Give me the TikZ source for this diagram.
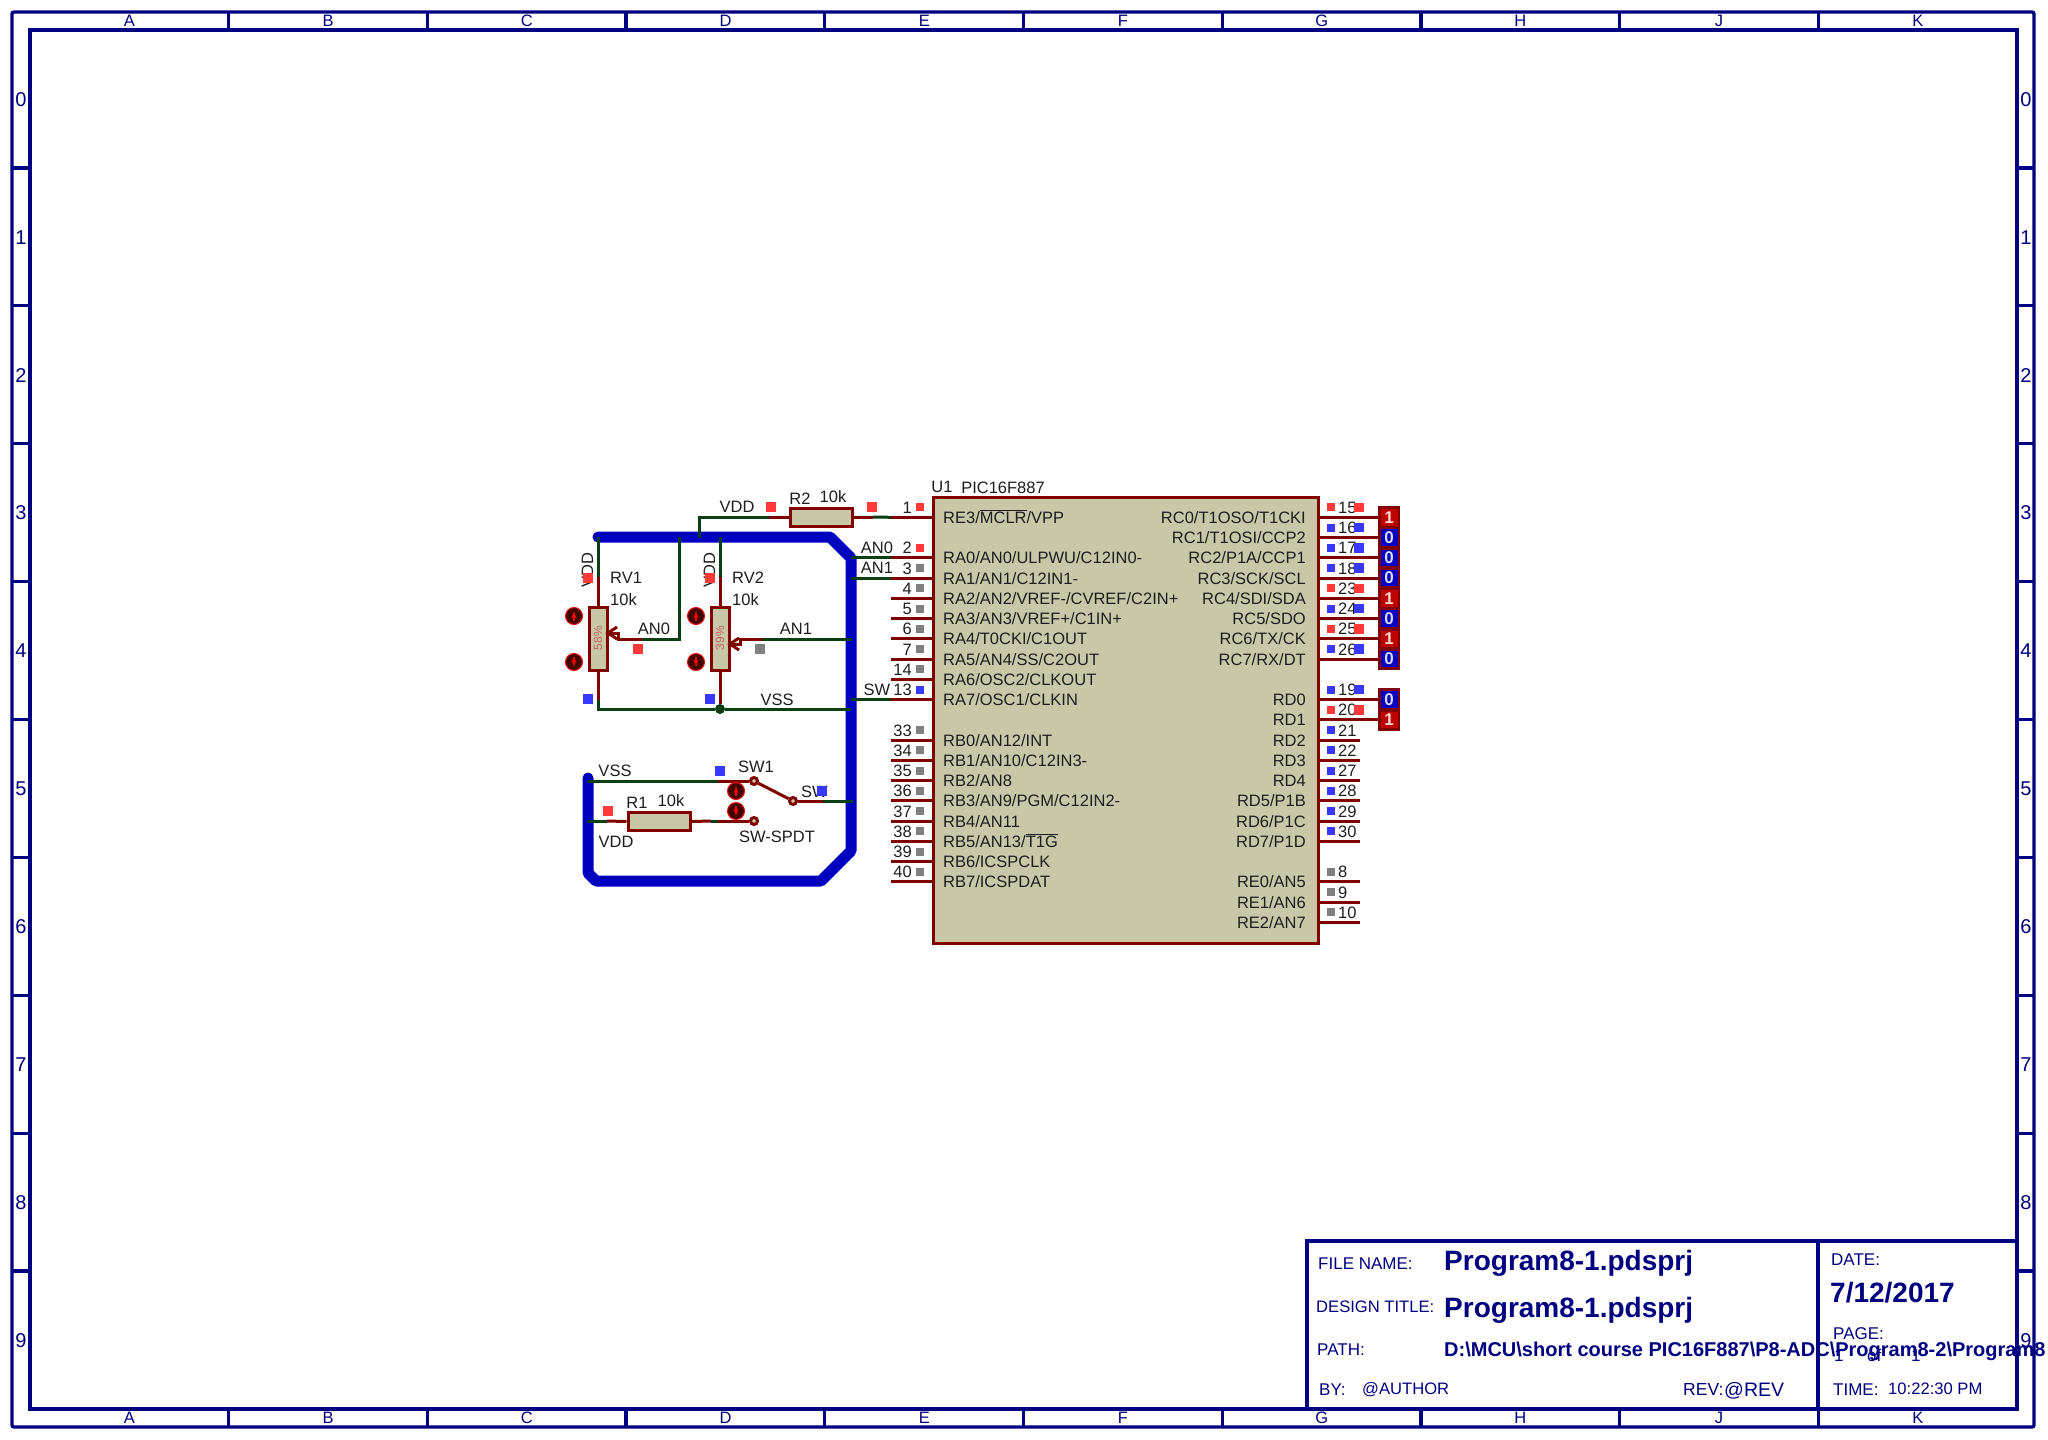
\documentclass[tikz,border=0pt]{standalone}
\usepackage{fontspec}
\setmainfont{Liberation Sans}
\definecolor{sheet}{HTML}{000080}
\definecolor{busblue}{HTML}{0000C0}
\definecolor{wirered}{HTML}{800000}
\definecolor{wiregreen}{HTML}{0A3F14}
\definecolor{body}{HTML}{C8C8A8}
\definecolor{sqred}{HTML}{FF3838}
\definecolor{sqblue}{HTML}{3838FF}
\definecolor{sqgray}{HTML}{808080}
\definecolor{txt}{HTML}{1E1E1E}
\definecolor{pct}{HTML}{C06060}
\newcommand{\sz}[1]{\fontsize{#1}{#1}\selectfont}
\tikzset{
	frameline/.style={draw=sheet, line width=3.3pt},
	lbl/.style={font=\sz{16.5}, text=txt, inner sep=0pt, text height=12pt, text depth=0pt},
	lblw/.style={lbl, anchor=west},
	lble/.style={lbl, anchor=east},
	tb/.style={font=\sz{#1}, text=sheet, inner sep=0pt, anchor=west, text height=0.72*#1pt, text depth=0pt},
	tbb/.style={tb=#1, font=\sz{#1}\bfseries},
	bus/.style={draw=busblue, line width=11pt, line cap=round, line join=round},
	wg/.style={draw=wiregreen, line width=3pt},
	wr/.style={draw=wirered, line width=3pt},
	resbox/.style={draw=wirered, fill=body, line width=3pt, minimum width=62pt, minimum height=18pt, inner sep=0pt},
	potbox/.style={draw=wirered, fill=body, line width=3pt, minimum width=18pt, minimum height=63pt, inner sep=0pt},
	term/.style={circle, draw=wirered, fill=body, line width=3pt, minimum size=7pt, inner sep=0pt},
	btn/.style={circle, draw=red, fill=black!50!wirered, line width=1pt, minimum size=17pt, inner sep=0pt},
	btna/.style={draw=red, line width=1.3pt, ->, >=latex},
	pctlbl/.style={rotate=90, font=\sz{12}, text=pct, inner sep=0pt},
	sq/.style={minimum size=#1, inner sep=0pt},
	sqr/.style={sq=10pt, fill=sqred},
	sqb/.style={sq=10pt, fill=sqblue},
	sqg/.style={sq=10pt, fill=sqgray},
	cell/.style={minimum width=17pt, minimum height=16.5pt, inner sep=0pt, font=\sz{17}\bfseries},
	cell1/.style={cell, fill=red!75!black, text=red!15!white},
	cell0/.style={cell, fill=busblue, text=blue!15!white},
	probe1/.style={sq=9.5pt, fill=sqred},
	probe0/.style={sq=9.5pt, fill=sqblue},
}
\begin{document}
\begin{tikzpicture}[x=1pt, y=-1pt]
	\useasboundingbox (0,0) rectangle (2048,1440);
	% sheet frame
	\draw[frameline, rounded corners=2pt] (12,12) rectangle (2034,1427);
	\draw[frameline] (30,30) rectangle (2017,1409);
	\foreach \i in {1,...,9} {
		\draw[frameline] ({30+198.7*\i},12) -- ({30+198.7*\i},30);
		\draw[frameline] ({30+198.7*\i},1409) -- ({30+198.7*\i},1427);
		\draw[frameline] (12,{30+137.9*\i}) -- (30,{30+137.9*\i});
		\draw[frameline] (2017,{30+137.9*\i}) -- (2034,{30+137.9*\i});
	}
	\foreach \i/\c in {0/A,1/B,2/C,3/D,4/E,5/F,6/G,7/H,8/J,9/K} {
		\node[tb=16.5, anchor=center] (top\c) at ({129.5+198.7*\i},21) {\c};
		\node[tb=16.5, anchor=center] (bot\c) at ({129.5+198.7*\i},1418) {\c};
	}
	\foreach \i in {0,...,9} {
		\node[tb=20, anchor=center] (left\i) at (21,{99+137.9*\i}) {\i};
		\node[tb=20, anchor=center] (right\i) at (2026,{99+137.9*\i}) {\i};
	}
	% title block
	\draw[frameline] (1307,1409) -- (1307,1241) -- (2017,1241);
	\draw[frameline] (1818,1241) -- (1818,1409);
	\node[tb=17] (fileL) at (1318,1263) {FILE NAME:};
	\node[tbb=28] (fileT) at (1444,1260) {Program8-1.pdsprj};
	\node[tb=16.6] (titleL) at (1316,1307) {DESIGN TITLE:};
	\node[tbb=28] (titleT) at (1444,1307) {Program8-1.pdsprj};
	\node[tb=17] (pathL) at (1317,1349) {PATH:};
	\node[tbb=20] (pathT) at (1444,1349) {D:\textbackslash MCU\textbackslash short course PIC16F887\textbackslash P8-ADC\textbackslash Program8-2\textbackslash Program8};
	\node[tb=17] (byL) at (1319,1389) {BY:};
	\node[tb=16.6] (byT) at (1362,1389) {@AUTHOR};
	\node[tb=17.5] (revL) at (1683,1389) {REV:};
	\node[tb=19.5] (revT) at (1724,1389) {@REV};
	\node[tb=17] (dateL) at (1831,1259) {DATE:};
	\node[tbb=28] (dateT) at (1830,1292) {7/12/2017};
	\node[tb=17] (pageL) at (1833,1333) {PAGE:};
	\node[tb=17] (page1) at (1834,1355) {1};
	\node[tb=17] (pageof) at (1867,1355) {of};
	\node[tb=17] (page2) at (1911,1355) {1};
	\node[tb=17] (timeL) at (1833,1389) {TIME:};
	\node[tb=16.6] (timeT) at (1888,1389) {10:22:30 PM};
	% bus
	\draw[bus] (598,537) -- (830,537) -- (851,558) -- (851,851) -- (821,881) -- (596,881) -- (588,873) -- (588,778);
	% U1
	\node[draw=wirered, fill=body, line width=3pt, minimum width=385pt, minimum height=446pt, inner sep=0pt] (U1) at (1125.5,720) {};
	\node[lbl] (U1ref) at (942,486) {U1};
	\node[lbl] (U1val) at (1003,487) {PIC16F887};
	\foreach \num/\row/\c in {1/0/sqr,2/2/sqr,3/3/sqg,4/4/sqg,5/5/sqg,6/6/sqg,7/7/sqg,14/8/sqg,13/9/sqb,33/11/sqg,34/12/sqg,35/13/sqg,36/14/sqg,37/15/sqg,38/16/sqg,39/17/sqg,40/18/sqg} {
		\coordinate (pin\num) at (933,{517.3+20.25*\row});
		\coordinate (end\num) at (891,{517.3+20.25*\row});
		\draw[wr] (end\num) -- (pin\num);
		\node[lble] (num\num) at (912,{507.3+20.25*\row}) {\num};
		\node[\c, sq=8pt] (sq\num) at (920,{507.3+20.25*\row}) {};
	}
	\foreach \num/\row/\c in {15/0/sqr,16/1/sqb,17/2/sqb,18/3/sqb,23/4/sqr,24/5/sqb,25/6/sqr,26/7/sqb,19/9/sqb,20/10/sqr,21/11/sqb,22/12/sqb,27/13/sqb,28/14/sqb,29/15/sqb,30/16/sqb,8/18/sqg,9/19/sqg,10/20/sqg} {
		\coordinate (pin\num) at (1318,{517.3+20.25*\row});
		\coordinate (end\num) at (1360,{517.3+20.25*\row});
		\draw[wr] (pin\num) -- (end\num);
		\node[lblw] (num\num) at (1338,{507.3+20.25*\row}) {\num};
		\node[\c, sq=8pt] (sq\num) at (1331,{507.3+20.25*\row}) {};
	}
	\foreach \row/\lab in {0/{RE3/$\overline{\hbox{MCLR}}$/VPP},2/{RA0/AN0/ULPWU/C12IN0-},3/{RA1/AN1/C12IN1-},4/{RA2/AN2/VREF-/CVREF/C2IN+},5/{RA3/AN3/VREF+/C1IN+},6/{RA4/T0CKI/C1OUT},7/{RA5/AN4/SS/C2OUT},8/{RA6/OSC2/CLKOUT},9/{RA7/OSC1/CLKIN},11/{RB0/AN12/INT},12/{RB1/AN10/C12IN3-},13/{RB2/AN8},14/{RB3/AN9/PGM/C12IN2-},15/{RB4/AN11},16/{RB5/AN13/$\overline{\hbox{T1G}}$},17/{RB6/ICSPCLK},18/{RB7/ICSPDAT}} {
		\node[lblw] (labL\row) at (943,{517.3+20.25*\row}) {\lab};
	}
	\foreach \row/\lab in {0/{RC0/T1OSO/T1CKI},1/{RC1/T1OSI/CCP2},2/{RC2/P1A/CCP1},3/{RC3/SCK/SCL},4/{RC4/SDI/SDA},5/{RC5/SDO},6/{RC6/TX/CK},7/{RC7/RX/DT},9/{RD0},10/{RD1},11/{RD2},12/{RD3},13/{RD4},14/{RD5/P1B},15/{RD6/P1C},16/{RD7/P1D},18/{RE0/AN5},19/{RE1/AN6},20/{RE2/AN7}} {
		\node[lble] (labR\row) at (1306,{517.3+20.25*\row}) {\lab};
	}
	% logic probes
	\node[fill=wirered, minimum width=22pt, minimum height=164pt, inner sep=0pt] (probeA) at (1389,588) {};
	\node[fill=wirered, minimum width=22pt, minimum height=43pt, inner sep=0pt] (probeB) at (1389,709.5) {};
	\foreach \num/\row/\v in {15/0/1,16/1/0,17/2/0,18/3/0,23/4/1,24/5/0,25/6/1,26/7/0,19/9/0,20/10/1} {
		\node[cell\v] (cell\num) at (1389,{517.3+20.25*\row}) {\v};
		\draw[wr] (end\num) -- (probeA.west |- end\num);
		\node[probe\v] (pr\num) at (1359,{507.3+20.25*\row}) {};
	}
	% R2 and top wires
	\node[resbox] (R2) at (821,517) {};
	\node[lbl] (R2ref) at (800,498) {R2};
	\node[lbl] (R2val) at (833,496) {10k};
	\coordinate (vddbus) at (699,538);
	\coordinate (vddcor) at (699,517);
	\coordinate (vddend) at (769,517);
	\coordinate (r2green) at (873,517);
	\draw[wg] (vddbus) -- (vddcor) -- (vddend);
	\draw[wr] (vddend) -- (R2.west);
	\draw[wr] (R2.east) -- (r2green);
	\draw[wg] (r2green) -- (end1);
	\node[lbl] (vddT) at (737,506) {VDD};
	\node[sqr] (sqA) at (771,507) {};
	\node[sqr] (sqB) at (872,507) {};
	% wires into the bus
	\foreach \p/\n/\ty in {2/AN0/547,3/AN1/567,13/SW/689} {
		\coordinate (bus\p) at (851,0 |- end\p);
		\draw[wg] (bus\p) -- (end\p);
		\node[lbl] (net\p) at (877,\ty) {\n};
	}
	% RV1
	\node[potbox] (RV1) at (598,638.5) {};
	\node[pctlbl] (RV1p) at (598,638) {58\%};
	\coordinate (rv1bus) at (598,537);
	\coordinate (rv1r) at (598,577);
	\coordinate (rv1low) at (598,700);
	\coordinate (rv1cor) at (598,709);
	\node[fill=wiregreen, circle, minimum size=10pt, inner sep=0pt] (dot) at (720,709) {};
	\draw[wg] (rv1bus) -- (rv1r);
	\draw[wr] (rv1r) -- (RV1.north);
	\draw[wr] (RV1.south) -- (rv1low);
	\draw[wg] (rv1low) -- (rv1cor) -- (dot);
	\coordinate (rv1tip) at (608,633);
	\coordinate (rv1a) at (618,633);
	\coordinate (rv1b) at (618,639);
	\coordinate (rv1c) at (642,639);
	\coordinate (rv1d) at (679,639);
	\coordinate (rv1e) at (679,537);
	\draw[wr] (rv1tip) -- (rv1a) -- (rv1b) -- (rv1c);
	\draw[wr] (617,627) -- (rv1tip) -- (617,639);
	\draw[wg] (rv1c) -- (rv1d) -- (rv1e);
	\node[rotate=90, lbl] (RV1vdd) at (587,570) {VDD};
	\node[sqr] (sqC) at (588,578) {};
	\node[lblw] (RV1ref) at (610,577) {RV1};
	\node[lblw] (RV1val) at (610,599) {10k};
	\node[lbl] (RV1net) at (654,628) {AN0};
	\node[sqr] (sqD) at (638,649) {};
	\node[sqb] (sqE) at (588,699) {};
	\node[btn] (b1) at (574,616) {};
	\node[btn] (b2) at (574,662) {};
	% RV2
	\node[potbox] (RV2) at (720,638.5) {};
	\node[pctlbl] (RV2p) at (720,638) {39\%};
	\coordinate (rv2bus) at (720,537);
	\coordinate (rv2r) at (720,577);
	\coordinate (vssbus) at (851,709);
	\draw[wg] (rv2bus) -- (rv2r);
	\draw[wr] (rv2r) -- (RV2.north);
	\draw[wr] (RV2.south) -- (dot);
	\draw[wg] (dot) -- (vssbus);
	\coordinate (rv2tip) at (730,644);
	\coordinate (rv2a) at (740,644);
	\coordinate (rv2b) at (740,639);
	\coordinate (rv2c) at (762,639);
	\coordinate (rv2d) at (852,639);
	\draw[wr] (rv2tip) -- (rv2a) -- (rv2b) -- (rv2c);
	\draw[wr] (739,638) -- (rv2tip) -- (739,650);
	\draw[wg] (rv2c) -- (rv2d);
	\node[rotate=90, lbl] (RV2vdd) at (709,570) {VDD};
	\node[sqr] (sqF) at (710,578) {};
	\node[lblw] (RV2ref) at (732,577) {RV2};
	\node[lblw] (RV2val) at (732,599) {10k};
	\node[lbl] (RV2net) at (796,628) {AN1};
	\node[sqg] (sqG) at (760,649) {};
	\node[sqb] (sqH) at (710,699) {};
	\node[lbl] (vssT) at (777,699) {VSS};
	\node[btn] (b3) at (696,616) {};
	\node[btn] (b4) at (696,662) {};
	% SW1 and R1
	\coordinate (vssa) at (587,781);
	\coordinate (vssb) at (718,781);
	\node[term] (t1) at (754,781) {};
	\node[term] (t2) at (793,801) {};
	\node[term] (t3) at (754,821) {};
	\coordinate (swr) at (823,801);
	\coordinate (swbus) at (853,801);
	\draw[wg] (vssa) -- (vssb);
	\draw[wr] (vssb) -- (t1);
	\draw[wr] (t1) -- (t2);
	\draw[wr] (t2) -- (swr);
	\draw[wg] (swr) -- (swbus);
	\node[resbox] (R1) at (659,821.5) {};
	\coordinate (r1a) at (587,821);
	\coordinate (r1b) at (607,821);
	\coordinate (r1c) at (711,821);
	\coordinate (r1d) at (718,821);
	\draw[wg] (r1a) -- (r1b);
	\draw[wr] (r1b) -- (R1.west);
	\draw[wr] (R1.east) -- (r1c);
	\draw[wg] (r1c) -- (r1d);
	\draw[wr] (r1d) -- (t3);
	\node[lbl] (vssS) at (615,770) {VSS};
	\node[sqb] (sqI) at (720,771) {};
	\node[lbl] (SW1ref) at (756,766) {SW1};
	\node[lblw] (swT) at (801,791) {SW};
	\node[sqb] (sqJ) at (822,791) {};
	\node[lbl] (R1ref) at (637,802) {R1};
	\node[lbl] (R1val) at (671,800) {10k};
	\node[sqr] (sqK) at (608,811) {};
	\node[lbl] (vddS) at (616,841) {VDD};
	\node[lblw] (SW1val) at (739,836) {SW-SPDT};
	\node[btn] (b5) at (736,791) {};
	\node[btn] (b6) at (736,811) {};
	\foreach \b in {b1,b3,b5} \draw[btna] ([yshift=-5pt]\b.center) -- ([yshift=5pt]\b.center);
	\foreach \b in {b2,b4,b6} \draw[btna] ([yshift=5pt]\b.center) -- ([yshift=-5pt]\b.center);
\end{tikzpicture}
\end{document}
